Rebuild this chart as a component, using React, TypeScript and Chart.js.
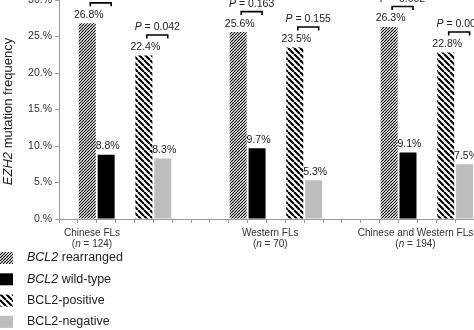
import React, { useEffect, useRef } from "react";
import { Chart, registerables } from "chart.js";

Chart.register(...registerables);

// ---- data ----
const categories = ["Chinese FLs", "Western FLs", "Chinese and Western FLs"];
const groupSizes = ["(n = 124)", "(n = 70)", "(n = 194)"];
const rearranged = [26.8, 25.6, 26.3];
const wildType = [8.8, 9.7, 9.1];
const positive = [22.4, 23.5, 22.8];
const negative = [8.3, 5.3, 7.5];
const pGenetic: (string | null)[] = [null, "0.163", "0.002"];
const pProtein: (string | null)[] = ["0.042", "0.155", "0.007"];
const yTickLabels = ["0.%", "5.%", "10.%", "15.%", "20.%", "25.%", "30.%"];
const seriesNames = [
  [{ t: "BCL2", i: true }, { t: " rearranged", i: false }],
  [{ t: "BCL2", i: true }, { t: " wild-type", i: false }],
  [{ t: "BCL2-positive", i: false }],
  [{ t: "BCL2-negative", i: false }],
];

// ---- layout constants ----
const SLOT_COUNT = 22;
const GROUP_START = [1, 9, 17];
const SERIES_OFFSET = [0, 1, 3, 4];
const CATEGORY_LABEL_POS = [1.25, 10.7, 18.4];
const FONT = "'Liberation Sans', Arial, Helvetica, sans-serif";

function makePattern(size: number, lw: number, forward: boolean) {
  const c = document.createElement("canvas");
  c.width = size;
  c.height = size;
  const g = c.getContext("2d")!;
  g.fillStyle = "#fff";
  g.fillRect(0, 0, size, size);
  g.strokeStyle = "#000";
  g.lineWidth = lw;
  g.beginPath();
  for (let k = -1; k <= 1; k++) {
    if (forward) {
      g.moveTo(k * size, size);
      g.lineTo(k * size + size, 0);
    } else {
      g.moveTo(k * size, 0);
      g.lineTo(k * size + size, size);
    }
  }
  g.stroke();
  return g.createPattern(c, "repeat")!;
}

type Part = { t: string; i: boolean };
function drawMixed(
  ctx: CanvasRenderingContext2D,
  parts: Part[],
  x: number,
  y: number,
  size: number,
  align: "left" | "center"
) {
  let total = 0;
  const widths = parts.map((p) => {
    ctx.font = `${p.i ? "italic " : ""}${size}px ${FONT}`;
    const w = ctx.measureText(p.t).width;
    total += w;
    return w;
  });
  let cx = align === "center" ? x - total / 2 : x;
  ctx.textAlign = "left";
  parts.forEach((p, k) => {
    ctx.font = `${p.i ? "italic " : ""}${size}px ${FONT}`;
    ctx.fillText(p.t, cx, y);
    cx += widths[k];
  });
}

function buildSeries(values: number[], offset: number) {
  const arr: (number | null)[] = new Array(SLOT_COUNT).fill(null);
  values.forEach((v, g) => {
    arr[GROUP_START[g] + offset] = v;
  });
  return arr;
}

const annotations = {
  id: "annotations",
  afterDraw(chart: any) {
    const ctx: CanvasRenderingContext2D = chart.ctx;
    const xs = chart.scales.x;
    const area = chart.chartArea;
    ctx.save();
    ctx.fillStyle = "#222";
    ctx.textBaseline = "middle";

    // value labels
    chart.data.datasets.forEach((ds: any, di: number) => {
      const meta = chart.getDatasetMeta(di);
      meta.data.forEach((el: any, i: number) => {
        const v = ds.data[i];
        if (v == null) return;
        ctx.font = `10.5px ${FONT}`;
        ctx.textAlign = "center";
        ctx.fillText(v.toFixed(1) + "%", el.x + 1.5, el.y - 8.5);
      });
    });

    // brackets with P values
    const drawBracket = (da: number, db: number, idx: number, p: string | null) => {
      const a = chart.getDatasetMeta(da).data[idx + SERIES_OFFSET[da]];
      const b = chart.getDatasetMeta(db).data[idx + SERIES_OFFSET[db]];
      const x1 = a.x + 3;
      const x2 = b.x + 5;
      const top = Math.min(a.y, b.y) - 20.5;
      ctx.strokeStyle = "#000";
      ctx.lineWidth = 1.6;
      ctx.beginPath();
      ctx.moveTo(x1, top + 3.5);
      ctx.lineTo(x1, top);
      ctx.lineTo(x2, top);
      ctx.lineTo(x2, top + 3.5);
      ctx.stroke();
      if (p) {
        drawMixed(ctx, [{ t: "P", i: true }, { t: " = " + p, i: false }], (x1 + x2) / 2, top - 7.5, 10.5, "center");
      }
    };
    GROUP_START.forEach((s, g) => {
      drawBracket(0, 1, s, pGenetic[g]);
      drawBracket(2, 3, s, pProtein[g]);
    });

    // category labels
    ctx.fillStyle = "#333";
    categories.forEach((c, g) => {
      const cx = xs.getPixelForValue(CATEGORY_LABEL_POS[g]);
      drawMixed(ctx, [{ t: c, i: false }], cx, area.bottom + 14, 10, "center");
      const m = /^\((n)( = .*)\)$/.exec(groupSizes[g]);
      if (m) {
        drawMixed(ctx, [{ t: "(", i: false }, { t: "n", i: true }, { t: m[2] + ")", i: false }], cx, area.bottom + 25, 10, "center");
      }
    });

    // y-axis title
    ctx.save();
    ctx.fillStyle = "#222";
    ctx.translate(8, (area.top + area.bottom) / 2 + 2);
    ctx.rotate(-Math.PI / 2);
    drawMixed(ctx, [{ t: "EZH2", i: true }, { t: " mutation frequency", i: false }], 0, 0, 13, "center");
    ctx.restore();

    // legend
    chart.data.datasets.forEach((ds: any, di: number) => {
      const yc = area.bottom + 39 + di * 21.3;
      ctx.fillStyle = ds.backgroundColor;
      ctx.fillRect(0, yc - 6, 13, 12);
      ctx.fillStyle = "#222";
      drawMixed(ctx, seriesNames[di], 27, yc, 12.5, "left");
    });
    ctx.restore();
  },
};

export default function App() {
  const ref = useRef<HTMLCanvasElement>(null);
  useEffect(() => {
    if (!ref.current) return;
    const patRearr = makePattern(3, 1.1, true);
    const patPos = makePattern(6, 2.2, false);
    const colors = [patRearr, "#000000", patPos, "#bdbdbd"];
    const values = [rearranged, wildType, positive, negative];
    const chart = new Chart(ref.current, {
      type: "bar",
      data: {
        labels: Array.from({ length: SLOT_COUNT }, (_, i) => "s" + i),
        datasets: values.map((v, k) => ({
          label: seriesNames[k].map((p) => p.t).join(""),
          data: buildSeries(v, SERIES_OFFSET[k]),
          backgroundColor: colors[k] as any,
          borderWidth: 0,
          grouped: false,
          barPercentage: 0.9,
          categoryPercentage: 1,
        })),
      },
      options: {
        responsive: false,
        animation: false,
        devicePixelRatio: 1,
        layout: { padding: 0 },
        plugins: { legend: { display: false }, tooltip: { enabled: false }, title: { display: false } },
        scales: {
          x: {
            offset: true,
            grid: { display: true, drawOnChartArea: false, drawTicks: true, tickLength: 4, color: "#999", offset: true },
            border: { display: true, color: "#999", width: 1 },
            ticks: { display: false },
            afterFit: (s: any) => {
              s.height = 111;
              s.paddingLeft = 0;
              s.paddingRight = 0;
            },
          },
          y: {
            min: 0,
            max: 30,
            grid: { display: true, drawOnChartArea: false, drawTicks: true, tickLength: 4, color: "#999" },
            border: { display: true, color: "#999", width: 1 },
            ticks: {
              stepSize: 5,
              padding: 3,
              color: "#333",
              font: { size: 10.5, family: FONT },
              callback: (_v: any, i: number) => yTickLabels[i],
            },
            afterFit: (s: any) => {
              s.width = 59;
              s.paddingTop = 0;
              s.paddingBottom = 0;
            },
          },
        },
      },
      plugins: [annotations],
    });
    return () => chart.destroy();
  }, []);
  return (
    <div style={{ position: "absolute", left: 0, top: 0, width: 474, height: 330, background: "#fff" }}>
      <canvas ref={ref} width={474} height={330} />
    </div>
  );
}
